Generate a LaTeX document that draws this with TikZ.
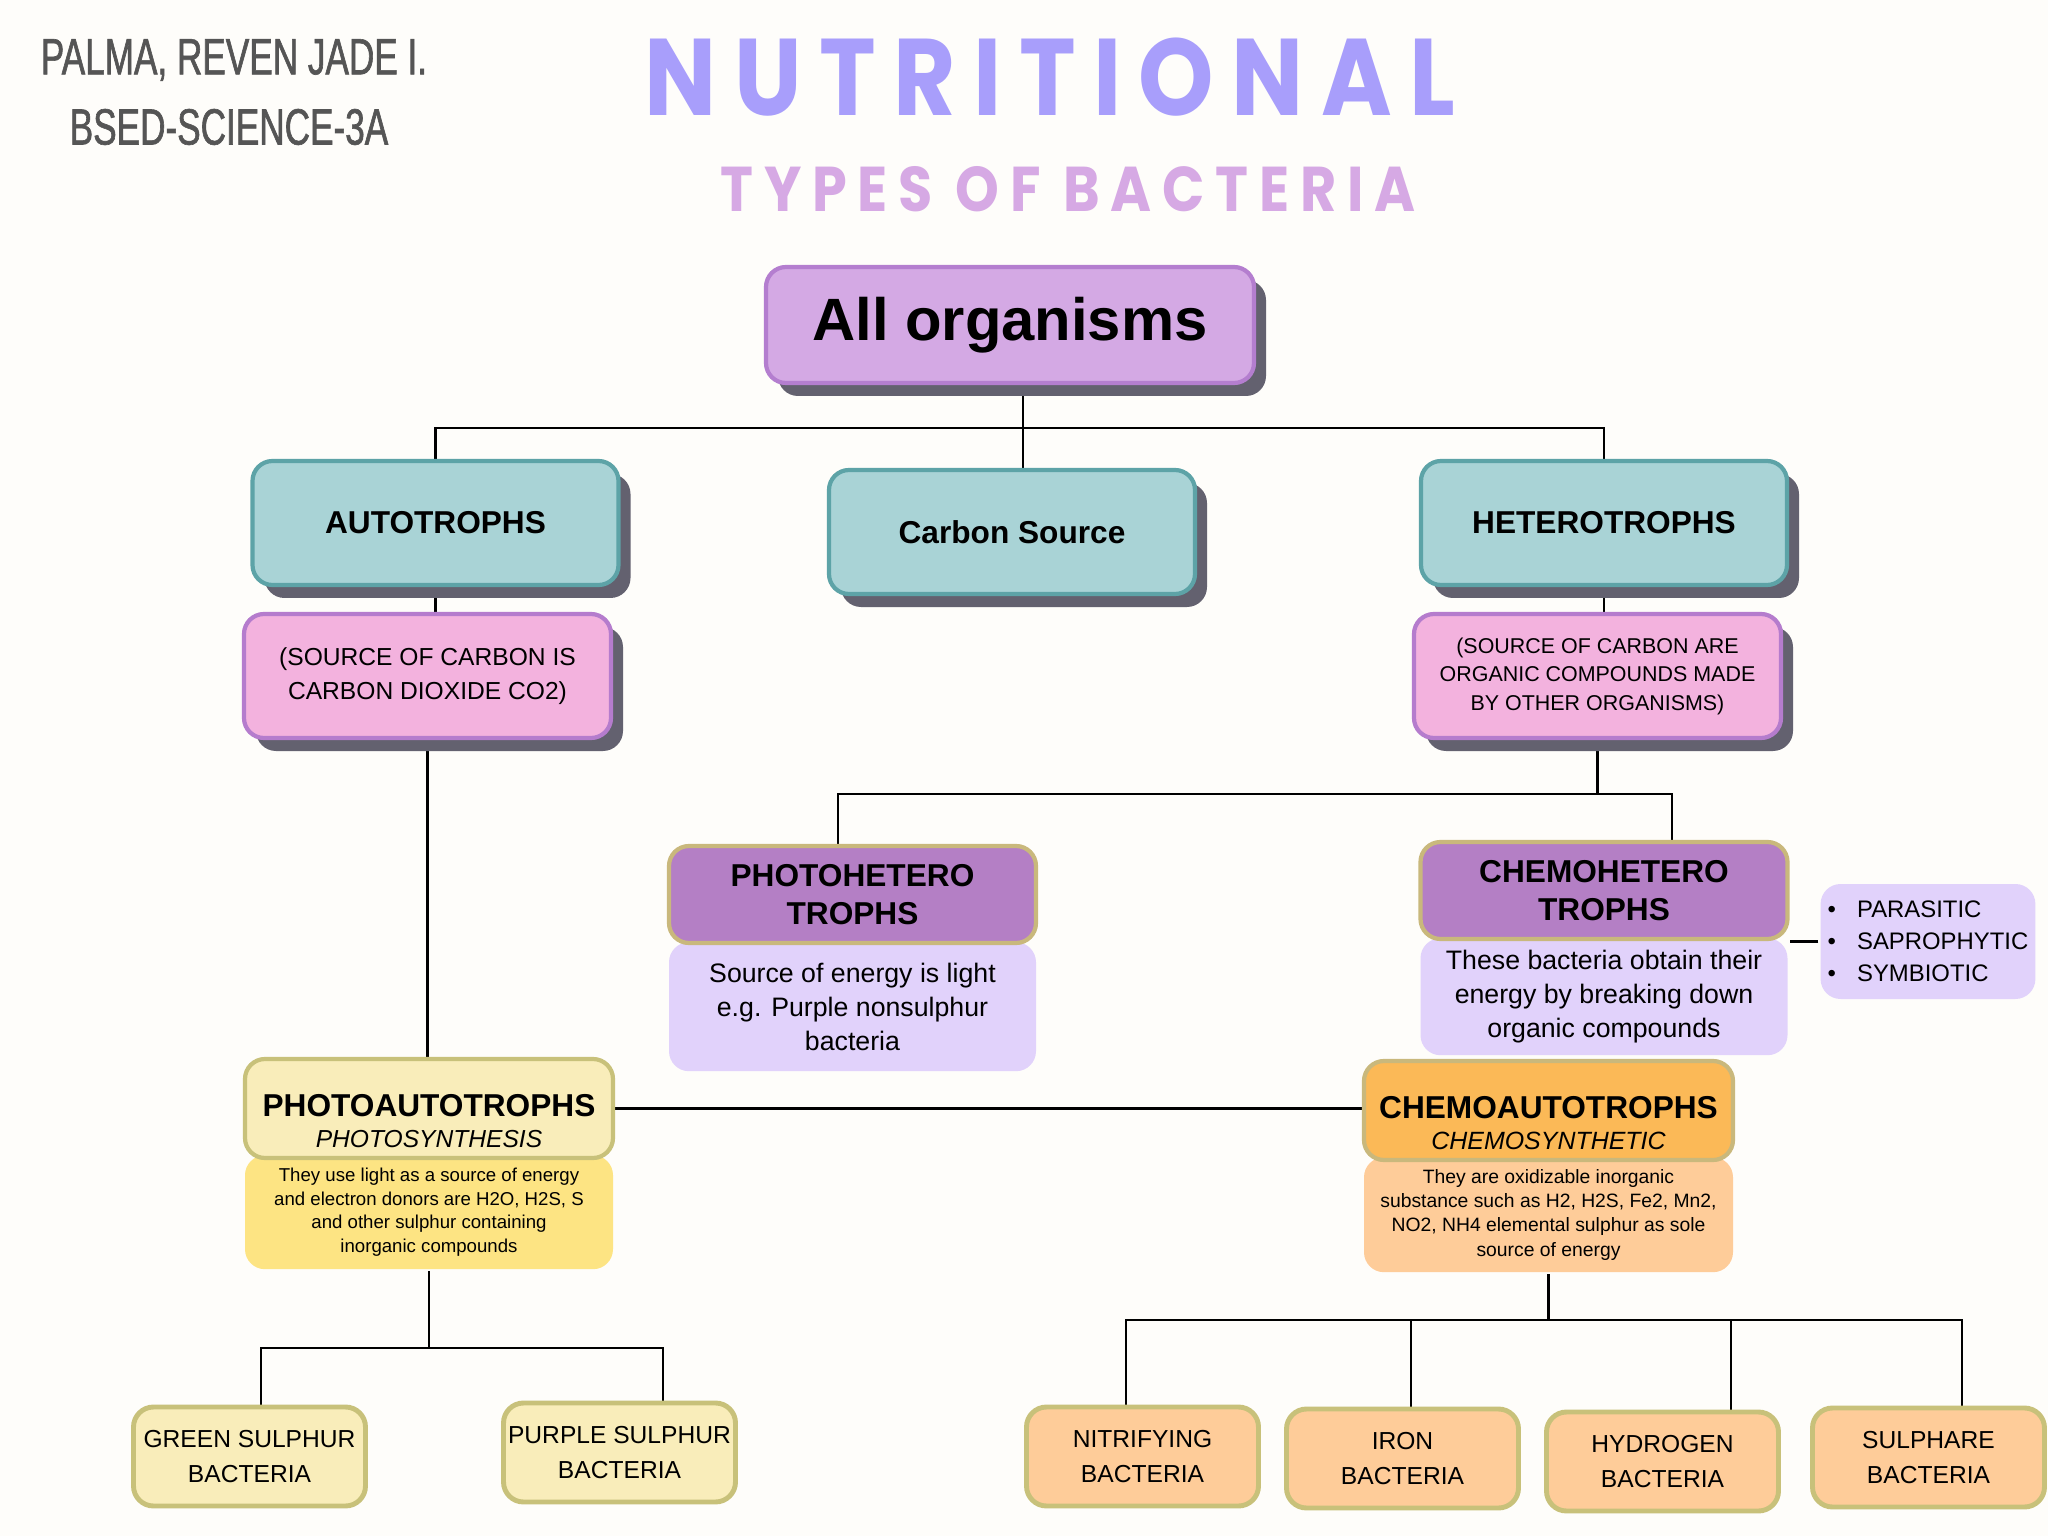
\documentclass[tikz,border=0pt]{standalone}
\usepackage{fontspec}
\setmainfont{Liberation Sans}
\newfontfamily\titlefont[LetterSpace=16,FakeStretch=0.88]{Poppins}
\newfontfamily\subtitlefont[LetterSpace=17,FakeStretch=0.88]{Poppins}
\newfontfamily\namefont[FakeStretch=0.69,FakeBold=1.2]{Liberation Sans}
\usepackage{tikz}
\usetikzlibrary{positioning,shadows,backgrounds}
\definecolor{pagebg}{HTML}{FEFDFA}
\definecolor{titlelilac}{HTML}{A89EFB}
\definecolor{subtitlepink}{HTML}{D6A9E4}
\definecolor{namegray}{HTML}{555555}
\definecolor{shadowgray}{HTML}{63616F}
\definecolor{rootfill}{HTML}{D4A9E4}
\definecolor{rootedge}{HTML}{B47ECF}
\definecolor{tealfill}{HTML}{A9D3D6}
\definecolor{tealedge}{HTML}{5DA3A7}
\definecolor{pinkfill}{HTML}{F3B2DE}
\definecolor{pinkedge}{HTML}{B57CCD}
\definecolor{headpurple}{HTML}{B47FC5}
\definecolor{khakiedge}{HTML}{C9B87C}
\definecolor{lavender}{HTML}{E1D2FB}
\definecolor{creamfill}{HTML}{F9EDBA}
\definecolor{oliveedge}{HTML}{C8C17A}
\definecolor{yellowfill}{HTML}{FDE483}
\definecolor{orangefill}{HTML}{FBB957}
\definecolor{peachfill}{HTML}{FECC99}

\begin{document}
\begin{tikzpicture}[
  box/.style={rounded corners=0.2cm, line width=1.2pt, align=center, inner sep=2pt},
  shadebox/.style={box, drop shadow={shadow xshift=0.12cm, shadow yshift=-0.13cm, fill=shadowgray, opacity=1}},
  rootbox/.style={shadebox, draw=rootedge, fill=rootfill, minimum width=4.88cm, minimum height=1.16cm, font=\fontsize{17}{20}\selectfont\bfseries},
  groupbox/.style={shadebox, draw=tealedge, fill=tealfill, minimum width=3.66cm, minimum height=1.24cm, font=\fontsize{9}{11}\selectfont\bfseries},
  notebox/.style={shadebox, draw=pinkedge, fill=pinkfill, minimum width=3.67cm, minimum height=1.24cm},
  typehead/.style={box, minimum width=3.67cm, minimum height=0.97cm, font=\fontsize{9}{10.8}\selectfont\bfseries},
  typebody/.style={box, draw=none, minimum width=3.67cm},
  leafbox/.style={box, line width=1.4pt, draw=oliveedge, inner xsep=1pt, minimum width=2.32cm, minimum height=0.99cm, font=\fontsize{7}{9.7}\selectfont},
  link/.style={draw=black, line width=0.6pt},
  titletext/.style={font=\titlefont\bfseries\fontsize{31}{31}\selectfont, text=titlelilac},
  subtitletext/.style={font=\subtitlefont\bfseries\fontsize{18}{18}\selectfont, text=subtitlepink},
  nametext/.style={font=\namefont\fontsize{14.5}{14.5}\selectfont, text=namegray}
]
\useasboundingbox (0,0) rectangle (20.48,-15.36);

% heading
\node[nametext] (name) at (2.34,-0.60) {PALMA, REVEN JADE I.};
\node[nametext] (section) at (2.29,-1.27) {BSED-SCIENCE-3A};
\node[titletext] (title) at (10.50,-0.77) {NUTRITIONAL};
\node[subtitletext] (subtitle) at (10.68,-1.89) {TYPES OF BACTERIA};

% carbon source level
\node[rootbox] (all) at (10.10,-3.25) {All organisms};
\node[groupbox] (auto) at (4.355,-5.23) {AUTOTROPHS};
\node[groupbox] (carbon) at (10.12,-5.32) {Carbon Source};
\node[groupbox] (hetero) at (16.04,-5.23) {HETEROTROPHS};
\node[notebox, font=\fontsize{7}{9.7}\selectfont] (autonote) at (4.275,-6.76) {(SOURCE OF CARBON IS\\CARBON DIOXIDE CO2)};
\node[notebox, font=\fontsize{6.1}{8.1}\selectfont] (heteronote) at (15.975,-6.76) {(SOURCE OF CARBON ARE\\ORGANIC COMPOUNDS MADE\\BY OTHER ORGANISMS)};

% energy source level
\node[typehead, fill=headpurple, draw=khakiedge] (phhead) at (8.525,-8.945) {PHOTOHETERO\\TROPHS};
\node[typehead, fill=headpurple, draw=khakiedge] (chhead) at (16.04,-8.905) {CHEMOHETERO\\TROPHS};
\node[typebody, fill=lavender, minimum width=2.14cm, minimum height=1.15cm, align=left, font=\fontsize{6.8}{9.1}\selectfont] (modes) at (19.28,-9.415) {\textbullet\hspace{6pt}PARASITIC\\\textbullet\hspace{6pt}SAPROPHYTIC\\\textbullet\hspace{6pt}SYMBIOTIC};
\node[typehead, fill=creamfill, draw=oliveedge, minimum width=3.68cm, minimum height=0.99cm, font=\fontsize{9}{8.8}\selectfont\bfseries] (pahead) at (4.29,-11.085) {\rule{0pt}{13.5pt}PHOTOAUTOTROPHS\\{\fontsize{7}{8.8}\selectfont\mdseries\itshape PHOTOSYNTHESIS}};
\node[typehead, fill=orangefill, draw=khakiedge, minimum width=3.69cm, minimum height=0.99cm, font=\fontsize{9}{8.8}\selectfont\bfseries] (cahead) at (15.485,-11.105) {\rule{0pt}{13.5pt}CHEMOAUTOTROPHS\\{\fontsize{7.1}{8.8}\selectfont\mdseries\itshape CHEMOSYNTHETIC}};

% bacteria
\node[leafbox, fill=creamfill] (green) at (2.495,-14.565) {GREEN SULPHUR\\BACTERIA};
\node[leafbox, fill=creamfill] (purple) at (6.195,-14.525) {PURPLE SULPHUR\\BACTERIA};
\node[leafbox, fill=peachfill] (nitri) at (11.425,-14.565) {NITRIFYING\\BACTERIA};
\node[leafbox, fill=peachfill] (iron) at (14.025,-14.585) {IRON\\BACTERIA};
\node[leafbox, fill=peachfill] (hydro) at (16.625,-14.615) {HYDROGEN\\BACTERIA};
\node[leafbox, fill=peachfill] (sulph) at (19.285,-14.575) {SULPHARE\\BACTERIA};

\begin{scope}[on background layer]
\fill[pagebg] (0,0) rectangle (20.48,-15.36);
% description boxes tucked under their headers
\node[typebody, fill=lavender, minimum height=1.29cm, below=-0.05cm of phhead, font=\fontsize{7.6}{9.7}\selectfont] (phbody) {Source of energy is light\\e.g. Purple nonsulphur\\bacteria};
\node[typebody, fill=lavender, minimum height=1.17cm, below=-0.05cm of chhead, font=\fontsize{7.6}{9.7}\selectfont] (chbody) {These bacteria obtain their\\energy by breaking down\\organic compounds};
\node[typebody, fill=yellowfill, minimum width=3.68cm, minimum height=1.14cm, below=-0.07cm of pahead, font=\fontsize{5.3}{6.8}\selectfont] (pabody) {They use light as a source of energy\\and electron donors are H2O, H2S, S\\and other sulphur containing\\inorganic compounds};
\node[typebody, fill=peachfill, minimum width=3.69cm, minimum height=1.15cm, below=-0.07cm of cahead, font=\fontsize{5.5}{6.9}\selectfont] (cabody) {They are oxidizable inorganic\\substance such as H2, H2S, Fe2, Mn2,\\NO2, NH4 elemental sulphur as sole\\source of energy};

% connectors
\coordinate (topbar) at (10.23,-4.28);
\draw[link] (all.south -| topbar) -- (topbar |- carbon.north);
\draw[link] (auto.north) |- (topbar) -| (hetero.north);
\draw[link] (auto.south) -- (auto.south |- autonote.north);
\draw[link] (hetero.south) -- (hetero.south |- heteronote.north);
\draw[link] (autonote.south) -- (autonote.south |- pahead.north);
\coordinate (midbarL) at (8.38,-7.94);
\coordinate (midbarR) at (16.72,-7.94);
\draw[link] (heteronote.south) -- (heteronote.south |- midbarL);
\draw[link] (midbarL |- phhead.north) -- (midbarL) -- (midbarR) -- (midbarR |- chhead.north);
\draw[link] (modes.west) -- (modes.west -| chhead.east);
\draw[link] (pahead.east) -- (pahead.east -| cahead.west);
\coordinate (lowbarL) at (2.61,-13.48);
\coordinate (lowbarR) at (6.63,-13.48);
\draw[link] (pabody.south) -- (pabody.south |- lowbarL);
\draw[link] (lowbarL |- green.north) -- (lowbarL) -- (lowbarR) -- (lowbarR |- purple.north);
\coordinate (leafbarA) at (11.26,-13.20);
\coordinate (leafbarB) at (14.11,-13.20);
\coordinate (leafbarC) at (17.31,-13.20);
\coordinate (leafbarD) at (19.62,-13.20);
\draw[link] (cabody.south) -- (cabody.south |- leafbarA);
\draw[link] (leafbarA |- nitri.north) -- (leafbarA) -- (leafbarD) -- (leafbarD |- sulph.north);
\draw[link] (leafbarB) -- (leafbarB |- iron.north);
\draw[link] (leafbarC) -- (leafbarC |- hydro.north);
\end{scope}
\end{tikzpicture}
\end{document}
